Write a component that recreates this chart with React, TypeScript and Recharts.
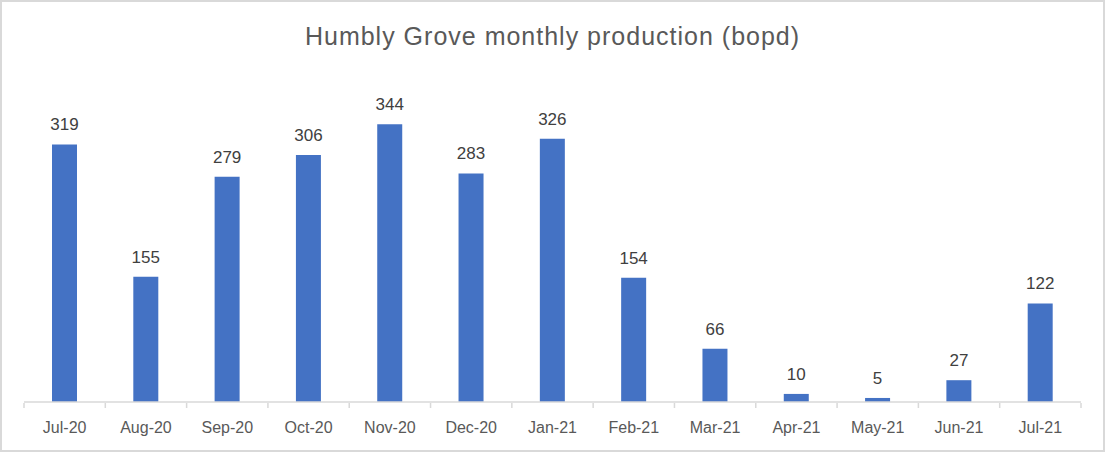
import { BarChart, Bar, XAxis, YAxis, LabelList } from "recharts";

const MONTHS = [
  "Jul-20", "Aug-20", "Sep-20", "Oct-20", "Nov-20", "Dec-20", "Jan-21",
  "Feb-21", "Mar-21", "Apr-21", "May-21", "Jun-21", "Jul-21",
];
const PRODUCTION = [319, 155, 279, 306, 344, 283, 326, 154, 66, 10, 5, 27, 122];
const EDGE_TICKS = MONTHS.map((_, i) => i).concat(MONTHS.length);

const data = MONTHS.map((month, i) => ({ month, idx: i + 0.5, bopd: PRODUCTION[i] }));

const FONT = "'Liberation Sans', 'DejaVu Sans', sans-serif";
const AXIS_GREY = "#D9D9D9";

export default function App() {
  return (
    <div
      style={{
        position: "absolute",
        left: 0,
        top: 0,
        width: 1105,
        height: 452,
        boxSizing: "border-box",
        border: "2px solid #D9D9D9",
        background: "#fff",
        fontFamily: FONT,
      }}
    >
      <div
        style={{
          position: "absolute",
          left: 0,
          right: 0,
          top: 20,
          textAlign: "center",
          fontSize: 25,
          letterSpacing: 1,
          color: "#595959",
        }}
      >
        Humbly Grove monthly production (bopd)
      </div>
      <div style={{ position: "absolute", left: -2, top: -2 }}>
        <BarChart
          width={1105}
          height={452}
          data={data}
          margin={{ top: 79, right: 24, left: 24, bottom: 20 }}
        >
          <XAxis
            xAxisId="cat"
            dataKey="month"
            height={1}
            axisLine={{ stroke: AXIS_GREY, strokeWidth: 1.5 }}
            tickLine={false}
            tickMargin={14}
            interval={0}
            tick={{ fontSize: 16, fill: "#595959", fontFamily: FONT }}
          />
          {/* category boundaries, Excel-style tick marks between months */}
          <XAxis
            xAxisId="edges"
            type="number"
            dataKey="idx"
            domain={[0, MONTHS.length]}
            ticks={EDGE_TICKS}
            height={29}
            tickSize={5}
            tickFormatter={() => ""}
            axisLine={false}
            tickLine={{ stroke: AXIS_GREY, strokeWidth: 1.5 }}
            allowDataOverflow
          />
          <YAxis hide domain={[0, 400]} />
          <Bar
            xAxisId="cat"
            dataKey="bopd"
            fill="#4472C4"
            barSize={25}
            isAnimationActive={false}
          >
            <LabelList
              dataKey="bopd"
              position="top"
              offset={14}
              style={{ fontSize: 17, fill: "#404040", fontFamily: FONT }}
            />
          </Bar>
        </BarChart>
      </div>
    </div>
  );
}
